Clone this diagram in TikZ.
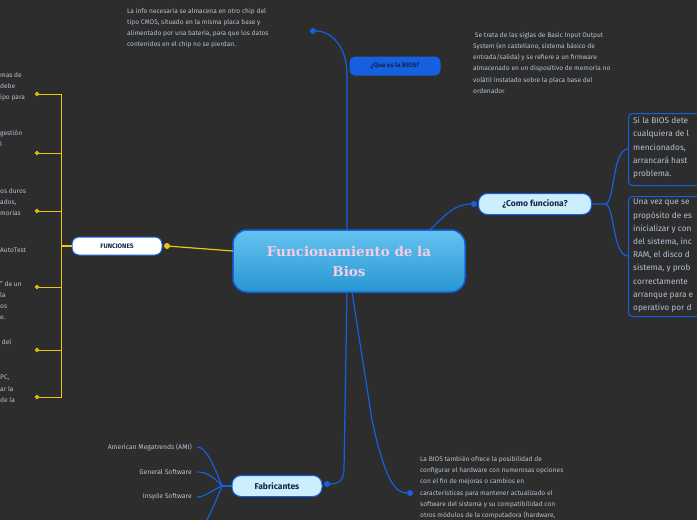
\documentclass[tikz,border=0pt]{standalone}
\usepackage{fontspec}
\setmainfont{Fira Sans}
\newfontfamily\titlefont{DejaVu Serif}
\begin{document}
\begin{tikzpicture}[x=1pt,y=-1pt,
  small/.style={text=txt,font=\fontsize{6.6}{11.2}\selectfont,inner sep=0pt,align=left},
  boxtxt/.style={text=txt,font=\fontsize{8.3}{13.2}\selectfont,inner sep=0pt,align=left},
  blu/.style={draw=lineblue,line width=1.2pt},
  yel/.style={draw=yel,line width=1.2pt},
  dotb/.style={circle,fill=lineblue,inner sep=0pt,minimum size=6pt},
  pill/.style={rounded corners=8pt,draw=#1,line width=1pt}]
\definecolor{bg}{HTML}{2D2D2D}
\definecolor{txt}{HTML}{B3C3D3}
\definecolor{lineblue}{HTML}{1560E0}
\definecolor{yel}{HTML}{F2C40F}
\definecolor{lightb}{HTML}{CDEEFC}
\definecolor{navy}{HTML}{13254A}
\fill[bg] (0,0) rectangle (697,520);
\useasboundingbox (0,0) rectangle (697,520);
\clip (0,0) rectangle (697,520);
% central
\node[pill=lineblue,rounded corners=14pt,minimum width=232pt,minimum height=62pt,
  top color={rgb,255:red,100;green,195;blue,240},bottom color={rgb,255:red,40;green,150;blue,210},line width=1.5pt]
  (c) at (349,261) {};
\node[text={rgb,255:red,245;green,205;blue,228},font=\titlefont\bfseries\fontsize{13.5}{20}\selectfont,align=center] at (c) {Funcionamiento de la\\Bios};
% top
\node[small,anchor=north west] (topt) at (127,8) {La info necesaria se almacena en otro chip del\\tipo CMOS, situado en la misma placa base y\\alimentado por una batería, para que los datos\\contenidos en el chip no se pierdan.};
\node[dotb] (d1) at (313,31) {};
\draw[blu] (347,230) -- (347,75) .. controls (347,45) and (330,31) .. (d1);
\node[pill=lineblue,fill=lineblue,rounded corners=5pt,minimum width=90pt,minimum height=18pt,font=\fontsize{6.5}{8}\selectfont\bfseries,text=navy] (q) at (395,66) {¿Que es la BIOS?};
\node[small,anchor=north west] (qt) at (473,32) {\ Se trata de las siglas de Basic Input Output\\System (en castellano, sistema básico de\\entrada/salida) y se refiere a un firmware\\almacenado en un dispositivo de memoria no\\volátil instalado sobre la placa base del\\ordenador};
% como funciona
\node[dotb] (d2) at (474,204) {};
\draw[blu] (430,230) .. controls (445,215) and (455,204) .. (d2);
\node[pill=lineblue,fill=lightb,rounded corners=9pt,minimum width=113pt,minimum height=21pt,font=\fontsize{8.5}{10}\selectfont\bfseries,text=navy] (cf) at (535,204) {¿Como funciona?};
\draw[blu] (cf.east) -- (605,204) .. controls (615,204) and (612,149) .. (628,149);
\draw[blu] (605,204) .. controls (615,204) and (612,256) .. (628,256);
\node[draw=lineblue,line width=1pt,rounded corners=4pt,minimum width=80pt,minimum height=72pt,anchor=north west] (b1) at (628,113) {};
\node[boxtxt,anchor=north west] at (633,117) {Si la BIOS dete\\cualquiera de l\\mencionados,\\arrancará hast\\problema.};
\node[draw=lineblue,line width=1pt,rounded corners=4pt,minimum width=80pt,minimum height=120pt,anchor=north west] (b2) at (628,196) {};
\node[boxtxt,anchor=north west] at (633,199) {Una vez que se\\propósito de es\\inicializar y con\\del sistema, inc\\RAM, el disco d\\sistema, y prob\\correctamente\\arranque para e\\operativo por d};
% funciones
\node[dotb,fill=yel] (d3) at (167,246) {};
\draw[yel] (d3) -- (233,251);
\node[pill=lineblue,fill=white,rounded corners=7pt,minimum width=90pt,minimum height=18pt,font=\fontsize{6.5}{8}\selectfont\bfseries,text=navy] (fn) at (117,246) {FUNCIONES};
\draw[yel] (fn.west) -- (61,246);
\foreach \y in {94,153,211,287,350,397}{
  \draw[yel,line width=1pt] (61,246) -- (61,\y) -- (37,\y);
  \fill[yel] (37,\y) circle (1.5pt);}
\node[small,anchor=north west] at (0,72) {mas de\\debe\\ipo para};
\node[small,anchor=north west] at (0,130) {gestión\\l};
\node[small,anchor=north west] at (0,188) {os duros\\ados,\\morias};
\node[small,anchor=north west] at (0,248) {AutoTest};
\node[small,anchor=north west] at (0,281) {" de un\\la\\os\\e.};
\node[small,anchor=north west] at (0,339) {\ del};
\node[small,anchor=north west] at (0,375) {PC,\\ar la\\de la};
% fabricantes
\node[dotb] (d4) at (327,484) {};
\draw[blu] (347,292) -- (344,470) .. controls (343,484) and (335,484) .. (d4);
\node[pill=lineblue,fill=lightb,rounded corners=9pt,minimum width=90pt,minimum height=21pt,font=\fontsize{8.5}{10}\selectfont\bfseries,text=navy] (fa) at (277,486) {Fabricantes};
\draw[blu] (fa.west) -- (222,486);
\node[small,anchor=east,font=\fontsize{6.8}{8}\selectfont] (m1) at (192,447) {American Megatrends (AMI)};
\node[small,anchor=east,font=\fontsize{6.8}{8}\selectfont] (m2) at (192,472) {General Software};
\node[small,anchor=east,font=\fontsize{6.8}{8}\selectfont] (m3) at (192,497) {Insyde Software};
\draw[blu] (222,486) .. controls (212,460) and (205,447) .. (197,447);
\draw[blu] (222,486) .. controls (212,475) and (205,472) .. (197,472);
\draw[blu] (222,486) .. controls (212,490) and (205,497) .. (197,497);
\draw[blu] (222,486) .. controls (214,505) and (210,515) .. (204,525);
% bottom
\node[dotb] (d5) at (410,493) {};
\draw[blu] (352,292) -- (372,420) .. controls (385,480) and (395,493) .. (d5);
\node[small,anchor=north west] at (420,456) {La BIOS también ofrece la posibilidad de\\configurar el hardware con numerosas opciones\\con el fin de mejoras o cambios en\\características para mantener actualizado el\\software del sistema y su compatibilidad con\\otros módulos de la computadora (hardware,};
\end{tikzpicture}
\end{document}
